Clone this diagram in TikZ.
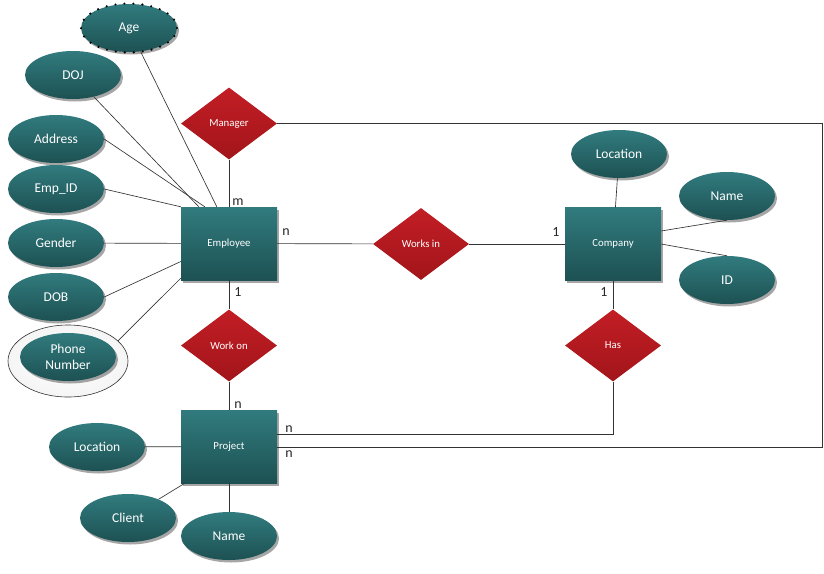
\documentclass[tikz,border=0pt]{standalone}
\usepackage{fontspec}
\setmainfont{Carlito}
\usetikzlibrary{shapes.geometric,shadows}
\definecolor{tealtop}{HTML}{317B7E}
\definecolor{tealbot}{HTML}{1D5153}
\definecolor{redtop}{HTML}{C21E25}
\definecolor{redbot}{HTML}{A2151A}
\definecolor{linegray}{HTML}{333333}
\begin{document}
\begin{tikzpicture}[x=1pt,y=-1pt,
  shadowed/.style={drop shadow={shadow xshift=2pt,shadow yshift=-2.5pt,opacity=0.35,fill=black}},
  attr/.style={ellipse,minimum width=96pt,minimum height=48pt,inner sep=0pt,
    top color=tealtop,bottom color=tealbot,shadowed,text=white,
    font=\fontsize{13.5}{15}\selectfont,align=center},
  entity/.style={rectangle,minimum width=96pt,minimum height=73pt,inner sep=0pt,
    top color=tealtop,bottom color=tealbot,shadowed,text=white,
    font=\fontsize{10.8}{12}\selectfont},
  rel/.style={diamond,minimum width=96pt,minimum height=72pt,inner sep=0pt,aspect=1.333,
    top color=redtop,bottom color=redbot,text=white,
    font=\fontsize{10.8}{12}\selectfont},
  conn/.style={draw=linegray,line width=0.65pt},
  card/.style={text=black!85,font=\fontsize{14}{15}\selectfont,inner sep=0pt}
]
\useasboundingbox (0,0) rectangle (824,573);

% entities
\node[entity] (emp) at (229,243.5) {Employee};
\node[entity] (comp) at (613,244) {Company};
\node[entity] (proj) at (229,446.5) {Project};

% relationships
\node[rel] (mgr) at (229,123.5) {Manager};
\node[rel] (works) at (421,244) {Works in};
\node[rel] (has) at (613,345.5) {Has};
\node[rel] (workon) at (229,345.5) {Work on};

% employee attributes
\node[attr] (age) at (129,28) {Age};
\draw[black,line width=2.4pt,dash pattern=on 0pt off 9pt,line cap=round]
  (age.center) ellipse [x radius=48pt,y radius=24.5pt];
\node[attr] (doj) at (73,75) {DOJ};
\node[attr] (address) at (56,139) {Address};
\node[attr] (empid) at (56,189) {Emp\_ID};
\node[attr] (gender) at (56,243) {Gender};
\node[attr] (dob) at (56,297) {DOB};
\node[ellipse,minimum width=120pt,minimum height=72pt,inner sep=0pt,draw=black!80,line width=0.6pt,
  inner color=white,outer color=black!4] (phoneout) at (68,361) {};
\node[attr,font=\fontsize{13.5}{16}\selectfont] (phone) at (68,357) {Phone\\Number};

% company attributes
\node[attr] (cloc) at (619,154) {Location};
\node[attr] (cname) at (727,196) {Name};
\node[attr] (cid) at (727,280) {ID};

% project attributes
\node[attr] (ploc) at (97,447) {Location};
\node[attr] (client) at (128,518) {Client};
\node[attr] (pname) at (229,536) {Name};

% connectors: employee attributes
\draw[conn] (age) -- ([xshift=36pt]emp.north west);
\draw[conn] (doj) -- ([xshift=18pt]emp.north west);
\draw[conn] (address.east) -- ([xshift=24pt]emp.north west);
\draw[conn] (empid.east) -- (emp.north west);
\draw[conn] (gender) -- (emp);
\draw[conn] (dob.east) -- ([yshift=-18pt]emp.west);
\draw[conn] (phoneout.22) -- ([yshift=2pt]emp.south west);

% relationships
\draw[conn] (mgr) -- (emp);
\draw[conn] (emp) -- (works);
\draw[conn] (works) -- (comp);
\draw[conn] (emp) -- (workon);
\draw[conn] (workon) -- (proj);
\draw[conn] (comp) -- (has);
\coordinate (c1) at (822,123.5);
\coordinate (c2) at (822,447);
\coordinate (hasp) at ([yshift=12pt]proj.east);
\draw[conn] (mgr.east) -- (c1) -- (c2) -- (proj.east |- c2);
\draw[conn] (has.south) -- (has.south |- hasp) -- (hasp);

% company attributes
\draw[conn] (cloc) -- (comp);
\draw[conn] (cname.south) -- ([yshift=13pt]comp.east);
\draw[conn] (comp.east) -- (cid.north);

% project attributes
\draw[conn] (ploc) -- (proj);
\draw[conn] (client) -- ([xshift=4pt]proj.south west);
\draw[conn] (pname) -- (proj);

% cardinalities
\node[card] (lm) at (238,202) {m};
\node[card] (ln1) at (286,232) {n};
\node[card] (l11) at (556,232) {1};
\node[card] (l12) at (238,292) {1};
\node[card] (l13) at (604,292) {1};
\node[card] (ln2) at (238,405) {n};
\node[card] (ln3) at (289,429) {n};
\node[card] (ln4) at (289,454) {n};
\end{tikzpicture}
\end{document}
